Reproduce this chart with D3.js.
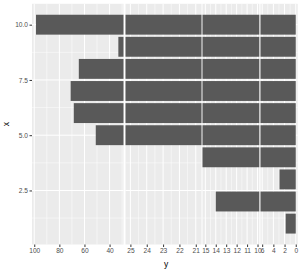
<!DOCTYPE html>
<html>
<head>
<meta charset="utf-8">
<script src="https://cdn.jsdelivr.net/npm/d3@7"></script>
<style>
  body { margin: 0; background: #fff; }
  text { font-family: "Liberation Sans", Arial, sans-serif; }
</style>
</head>
<body>
<div id="chart"></div>
<script>
// data
var xs = [1, 2, 3, 4, 5, 6, 7, 8, 9, 10];
var ys = [1.8, 14, 2.9, 18, 51, 68.5, 71, 64.5, 33, 98.6];

// broken value axis: one sub panel per piece
var pieceDomains = [[101.8, 28.9], [25.3, 20.65], [15.27, 9.83], [6.3, -0.35]];
var pieceTicks = [[100, 80, 60, 40], [25, 24, 23, 22, 21], [15, 14, 13, 12, 11, 10], [6, 4, 2, 0]];
var pieceMinor = [[90, 70, 50, 30], [24.5, 23.5, 22.5, 21.5], [14.5, 13.5, 12.5, 11.5, 10.5], [5, 3, 1]];
var pieceRanges = [[32, 123.5], [125.5, 201.5], [202.5, 259.3], [260.5, 297.7]];

var yTicks = [2.5, 5, 7.5, 10];
var yMinor = [1.25, 3.75, 6.25, 8.75];

var width = 304, height = 270;
var panelTop = 3.8, panelBottom = 244.5;

var svg = d3.select("#chart").append("svg")
    .attr("width", width)
    .attr("height", height);

var y = d3.scaleLinear().domain([0.055, 10.945]).range([panelBottom, panelTop]);
var bandH = 0.9 * (y(0) - y(1));

pieceDomains.forEach(function(dom, i) {
  var r = pieceRanges[i];
  var x = d3.scaleLinear().domain(dom).range(r).clamp(true);
  var g = svg.append("g");

  g.append("rect")
    .attr("x", r[0]).attr("y", panelTop)
    .attr("width", r[1] - r[0]).attr("height", panelBottom - panelTop)
    .attr("fill", "#EBEBEB");

  // grid
  g.selectAll(".vminor").data(pieceMinor[i]).enter().append("line")
    .attr("x1", function(d) { return x(d); }).attr("x2", function(d) { return x(d); })
    .attr("y1", panelTop).attr("y2", panelBottom)
    .attr("stroke", "#fff").attr("stroke-width", 0.5);
  g.selectAll(".hminor").data(yMinor).enter().append("line")
    .attr("x1", r[0]).attr("x2", r[1])
    .attr("y1", function(d) { return y(d); }).attr("y2", function(d) { return y(d); })
    .attr("stroke", "#fff").attr("stroke-width", 0.5);
  g.selectAll(".vmajor").data(pieceTicks[i]).enter().append("line")
    .attr("x1", function(d) { return x(d); }).attr("x2", function(d) { return x(d); })
    .attr("y1", panelTop).attr("y2", panelBottom)
    .attr("stroke", "#fff").attr("stroke-width", 1);
  g.selectAll(".hmajor").data(yTicks).enter().append("line")
    .attr("x1", r[0]).attr("x2", r[1])
    .attr("y1", function(d) { return y(d); }).attr("y2", function(d) { return y(d); })
    .attr("stroke", "#fff").attr("stroke-width", 1);

  // bars, clamped to this piece
  g.selectAll(".bar").data(xs).enter().append("rect")
    .attr("x", function(d, j) { return x(ys[j]); })
    .attr("width", function(d, j) { return x(0) - x(ys[j]); })
    .attr("y", function(d) { return y(d) - bandH / 2; })
    .attr("height", bandH)
    .attr("fill", "#595959");

  // bottom axis
  var ax = svg.append("g")
    .attr("transform", "translate(0," + panelBottom + ")")
    .call(d3.axisBottom(x).tickValues(pieceTicks[i]).tickSize(2.5).tickPadding(1.5).tickFormat(d3.format("d")));
  ax.select(".domain").remove();
  ax.selectAll(".tick line").attr("stroke", "#333");
  ax.selectAll(".tick text").attr("fill", "#4D4D4D").attr("font-size", 6.6)
    .attr("font-family", "Liberation Sans, Arial, sans-serif");
});

// left axis
var ay = svg.append("g")
  .attr("transform", "translate(" + pieceRanges[0][0] + ",0)")
  .call(d3.axisLeft(y).tickValues(yTicks).tickSize(2.5).tickPadding(1.5).tickFormat(d3.format(".1f")));
ay.select(".domain").remove();
ay.selectAll(".tick line").attr("stroke", "#333");
ay.selectAll(".tick text").attr("fill", "#4D4D4D").attr("font-size", 6.6)
  .attr("font-family", "Liberation Sans, Arial, sans-serif");

// axis titles
svg.append("text")
  .attr("x", 166).attr("y", 267)
  .attr("text-anchor", "middle")
  .attr("font-size", 8.5).attr("fill", "#000")
  .text("y");
svg.append("text")
  .attr("transform", "translate(9," + ((panelTop + panelBottom) / 2) + ") rotate(-90)")
  .attr("text-anchor", "middle")
  .attr("font-size", 8.5).attr("fill", "#000")
  .text("x");
</script>
</body>
</html>
